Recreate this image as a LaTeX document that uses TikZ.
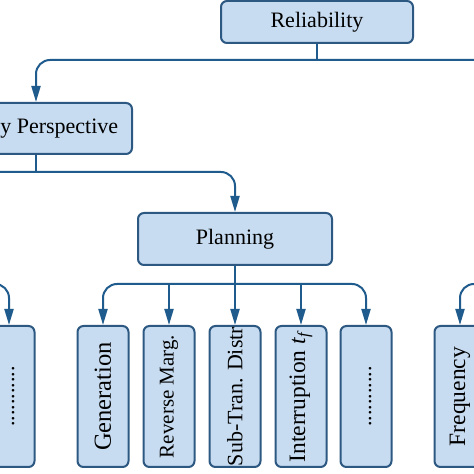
\documentclass[tikz,border=0pt]{standalone}
\usepackage{fontspec}
\setmainfont{Liberation Serif}
\usetikzlibrary{arrows.meta}
\definecolor{boxfill}{RGB}{199,220,240}
\definecolor{boxline}{RGB}{44,88,130}
\definecolor{connline}{RGB}{31,91,140}
\tikzset{
  topbox/.style={draw=boxline, fill=boxfill, line width=2pt, rounded corners=6pt,
    minimum width=192pt, inner sep=0pt, font=\fontsize{22}{26}\selectfont},
  leafbox/.style={draw=boxline, fill=boxfill, line width=2pt, rounded corners=6pt,
    rotate=90, minimum width=141pt, minimum height=51pt, inner sep=0pt,
    font=\fontsize{22}{26}\selectfont},
  conn/.style={draw=connline, line width=2pt, rounded corners=14pt},
  tip/.style={-{Triangle[length=16pt,width=9pt]}},
  bothtip/.style={{Triangle[length=16pt,width=9pt]}-{Triangle[length=16pt,width=9pt]}}
}
\begin{document}
\begin{tikzpicture}[x=1pt,y=1pt]
\useasboundingbox (0,0) rectangle (474,474);
\clip (0,0) rectangle (474,474);
\fill[white] (0,0) rectangle (474,474);

% top-level boxes
\node[topbox, minimum height=42pt] (rel) at (317,452) {Reliability};
\node[topbox, minimum height=51pt] (persp) at (36,345.5) {Utility Perspective};
\node[topbox, minimum width=194pt, minimum height=52pt] (plan) at (235,235) {Planning};

% leaf boxes
\node[leafbox] (l0) at (9,77.5) {\strut...........};
\node[leafbox, font=\fontsize{24.5}{28}\selectfont] (lg) at (103,77.5) {Generation};
\node[leafbox, font=\fontsize{21}{25}\selectfont] (lr) at (169,77.5) {Reverse Marg.};
\node[leafbox] (ls) at (235,77.5) {Sub-Tran. Distr};
\node[leafbox, font=\fontsize{23.5}{27}\selectfont] (li) at (301,77.5) {Interruption \textit{t}\textsubscript{\textit{f}}};
\node[leafbox] (ld) at (366,77.5) {\strut...........};
\node[leafbox, font=\fontsize{23.5}{27}\selectfont] (lf) at (460,77.5) {Frequency};

% junction coordinates
\coordinate (relJ) at (317,414);
\coordinate (relR) at (520,414);
\coordinate (perspJ) at (36,302);
\coordinate (perspL) at (-40,302);
\coordinate (planJ) at (235,190);
\coordinate (leftL) at (-60,190);
\coordinate (rightR) at (520,190);

% Reliability connectors
\draw[conn] (rel.south) -- (relJ);
\draw[conn,tip] (relR) -- (relJ) -| (persp.north);

% Perspective connectors
\draw[conn] (persp.south) -- (perspJ);
\draw[conn,tip] (perspL) -- (perspJ) -| (plan.north);

% Planning connectors
\draw[conn,tip] (plan.south) -- (ls.east);
\draw[conn,bothtip] (lg.east) |- (planJ) -| (ld.east);
\draw[conn,tip] (lr.east |- planJ) -- (lr.east);
\draw[conn,tip] (li.east |- planJ) -- (li.east);

% off-picture parents
\draw[conn,tip] (leftL) -| (l0.east);
\draw[conn,tip] (rightR) -| (lf.east);
\end{tikzpicture}
\end{document}
